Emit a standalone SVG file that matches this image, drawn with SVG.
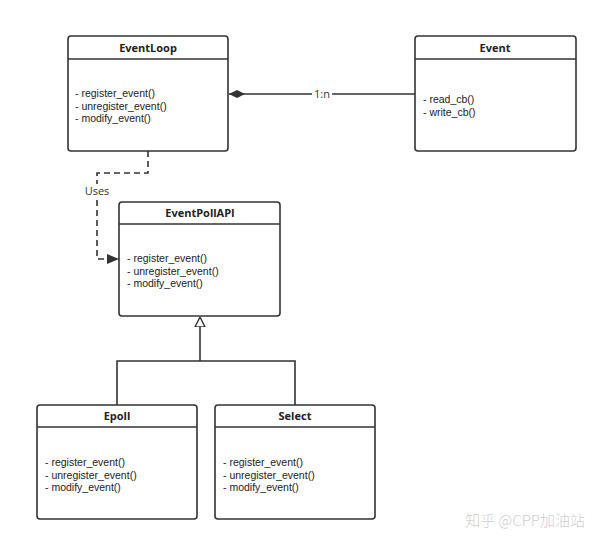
<svg xmlns="http://www.w3.org/2000/svg" width="600" height="544" viewBox="0 0 600 544">
<style>
.box{fill:#fff;stroke:#333;stroke-width:1.6}
.sep{stroke:#333;stroke-width:1.6}
.title{font-family:"Open Sans",sans-serif;font-size:11px;font-weight:bold;fill:#222;text-anchor:middle}
.m{font-family:"Liberation Sans",Arial,sans-serif;font-size:10.5px;fill:#222}
.ln{fill:none;stroke:#333;stroke-width:1.6}
.lbl{font-family:"Open Sans",sans-serif;font-size:11px;fill:#333}
</style>
<defs>
<marker id="diamond" viewBox="0 0 16 8" refX="0" refY="4" markerWidth="16" markerHeight="8" markerUnits="userSpaceOnUse" orient="auto">
<path d="M0,4 L8,0 L16,4 L8,8 Z" fill="#333"/>
</marker>
<marker id="arrow" viewBox="0 0 12 10" refX="12" refY="5" markerWidth="12" markerHeight="10" markerUnits="userSpaceOnUse" orient="auto">
<path d="M0,0 L12,5 L0,10 Z" fill="#333"/>
</marker>
<marker id="tri" viewBox="0 0 10 12" refX="10" refY="6" markerWidth="10" markerHeight="12" markerUnits="userSpaceOnUse" orient="auto">
<path d="M0,1 L10,6 L0,11 Z" fill="#fff" stroke="#333" stroke-width="1.4"/>
</marker>
</defs>
<rect width="600" height="544" fill="#fff"/>
<g id="connectors">
<path class="ln" d="M229,94 L415,94" marker-start="url(#diamond)"/>
<rect x="312" y="87" width="20" height="14" fill="#fff"/>
<text class="lbl" x="322" y="98" text-anchor="middle">1:n</text>
<path class="ln" d="M148,151 L148,173 L97,173 L97,259 L119,259" stroke-dasharray="6,4" marker-end="url(#arrow)"/>
<rect x="82" y="184" width="30" height="14" fill="#fff"/>
<text class="lbl" x="97" y="195" text-anchor="middle">Uses</text>
<path class="ln" d="M200,361 L200,317" marker-end="url(#tri)"/>
<path class="ln" d="M117,405 L117,361 L295,361 L295,405"/>
</g>
<g id="EventLoop">
<rect class="box" x="68" y="36" width="160" height="115" rx="3"/>
<line class="sep" x1="68" y1="59" x2="228" y2="59"/>
<text class="title" x="148" y="52">EventLoop</text>
<text class="m" x="75" y="97">- register_event()</text>
<text class="m" x="75" y="109.5">- unregister_event()</text>
<text class="m" x="75" y="122">- modify_event()</text>
</g>
<g id="Event">
<rect class="box" x="415" y="36" width="161" height="115" rx="3"/>
<line class="sep" x1="415" y1="59" x2="576" y2="59"/>
<text class="title" x="495" y="52">Event</text>
<text class="m" x="423" y="103">- read_cb()</text>
<text class="m" x="423" y="115.5">- write_cb()</text>
</g>
<g id="EventPollAPI">
<rect class="box" x="119" y="202" width="161" height="114" rx="3"/>
<line class="sep" x1="119" y1="224" x2="280" y2="224"/>
<text class="title" x="200" y="217">EventPollAPI</text>
<text class="m" x="127" y="262">- register_event()</text>
<text class="m" x="127" y="274.5">- unregister_event()</text>
<text class="m" x="127" y="287">- modify_event()</text>
</g>
<g id="Epoll">
<rect class="box" x="37" y="405" width="160" height="114" rx="3"/>
<line class="sep" x1="37" y1="427" x2="197" y2="427"/>
<text class="title" x="117" y="420">Epoll</text>
<text class="m" x="45" y="466">- register_event()</text>
<text class="m" x="45" y="478.5">- unregister_event()</text>
<text class="m" x="45" y="491">- modify_event()</text>
</g>
<g id="Select">
<rect class="box" x="215" y="405" width="160" height="114" rx="3"/>
<line class="sep" x1="215" y1="427" x2="375" y2="427"/>
<text class="title" x="295" y="420">Select</text>
<text class="m" x="223" y="466">- register_event()</text>
<text class="m" x="223" y="478.5">- unregister_event()</text>
<text class="m" x="223" y="491">- modify_event()</text>
</g>
<text x="585" y="526" text-anchor="end" font-family="'Noto Sans CJK SC',sans-serif" font-size="15" font-weight="300" fill="#cfcfcf">知乎 @CPP加油站</text>
</svg>
